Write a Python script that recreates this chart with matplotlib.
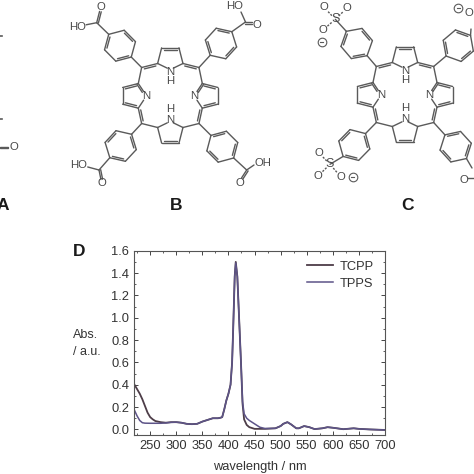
import numpy as np
import matplotlib
matplotlib.use("Agg")
import matplotlib.pyplot as plt
from matplotlib.ticker import MultipleLocator

plt.rcParams['font.family'] = ['Liberation Sans', 'DejaVu Sans']

wl_tcpp = [220,225,230,235,240,245,250,255,260,270,280,290,300,310,320,330,340,350,360,370,380,385,388,392,396,400,404,407,409,412,414,417,420,424,427,430,435,440,450,470,490,500,505,513,520,530,535,545,555,565,580,590,600,620,640,650,670,700]
abs_tcpp = [.40,.36,.32,.27,.21,.15,.11,.09,.075,.065,.06,.065,.065,.06,.05,.047,.05,.07,.085,.10,.10,.105,.11,.18,.26,.32,.40,.60,.89,1.37,1.50,1.37,1.04,.60,.23,.09,.04,.02,.005,.005,.01,.03,.05,.065,.045,.01,.01,.03,.02,.003,.01,.02,.015,.002,.01,.005,0,-.005]
wl_tpps = [220,225,230,235,240,250,260,270,280,290,300,310,320,330,340,350,360,370,380,385,388,392,396,400,404,407,409,412,414,417,420,424,427,430,435,440,450,460,470,490,500,505,513,520,530,535,545,555,565,580,590,600,620,640,650,670,700]
abs_tpps = [.17,.12,.08,.06,.056,.055,.055,.055,.058,.063,.065,.06,.05,.047,.05,.07,.085,.10,.10,.105,.11,.18,.26,.32,.40,.60,.89,1.37,1.49,1.37,1.04,.60,.25,.14,.10,.08,.05,.02,.008,.01,.03,.05,.065,.045,.01,.01,.03,.02,.003,.01,.02,.015,.002,.01,.005,0,-.005]
x_ticks = [250,300,350,400,450,500,550,600,650,700]
y_ticks = [0.0,0.2,0.4,0.6,0.8,1.0,1.2,1.4,1.6]
series_names = ['TCPP','TPPS']

W = H = 474
fig = plt.figure(figsize=(W/100, H/100), dpi=100)
GRAY = '#5a5a5a'

# Overlay in pixel coordinates for the structure drawings
ov = fig.add_axes([0,0,1,1])
ov.set_xlim(0,W); ov.set_ylim(H,0); ov.axis('off')

def seg(a, b, lw=1.0):
    ov.plot([a[0],b[0]],[a[1],b[1]],color=GRAY,lw=lw,solid_capstyle='round')

def dbl(a, b, toward, off=2.0, shrink=.14):
    a=np.array(a,float); b=np.array(b,float); t=np.array(toward,float)
    seg(a,b)
    d=b-a; n=np.array([-d[1],d[0]]); n/=np.linalg.norm(n)
    m=(a+b)/2
    if np.dot(t-m,n)<0: n=-n
    seg(a+d*shrink+n*off,b-d*shrink+n*off)

def lab(x,y,s,fs=8.2,**k):
    ov.text(x,y,s,ha='center',va='center',fontsize=fs,color='#484848',**k)

def core(cx,cy):
    P=lambda dx,dy:(cx+dx/3,cy+dy/3)
    c=(cx,cy)
    m=86
    tl,tr,bl,br=P(-m,-84),P(m,-84),P(-m,84),P(m,84)
    # top pyrrole (NH)
    a1,a2,b1,b2=P(-38,-96),P(38,-96),P(-26,-143),P(26,-143)
    n=P(0,-68)
    seg(a1,b1);seg(a2,b2);dbl(b1,b2,n)
    seg(a1,P(-9,-82));seg(a2,P(9,-82))
    dbl(tl,a1,c);dbl(a2,tr,c)
    lab(*P(0,-72),'N');lab(*P(0,-44),'H')
    # bottom pyrrole (NH)
    a3,a4,b3,b4=P(-38,96),P(38,96),P(-26,143),P(26,143)
    n=P(0,68)
    seg(a3,b3);seg(a4,b4);dbl(b3,b4,n)
    seg(a3,P(-9,82));seg(a4,P(9,82))
    seg(bl,a3);seg(a4,br)
    lab(*P(0,72),'N');lab(*P(0,40),'H')
    # left pyrrole (N)
    a5,a6,b5,b6=P(-96,-36),P(-96,38),P(-143,-24),P(-143,26)
    n=P(-72,0)
    dbl(a5,b5,n);dbl(a6,b6,n);seg(b5,b6)
    dbl(a5,P(-80,-12),P(-110,0),off=1.6,shrink=.0);seg(a6,P(-80,14))
    lab(*P(-72,0),'N')
    seg(tl,a5);dbl(a6,bl,c)
    # right pyrrole (N)
    a7,a8,b7,b8=P(96,-36),P(96,38),P(143,-24),P(143,26)
    n=P(72,0)
    dbl(a7,b7,n);dbl(a8,b8,n);seg(b7,b8)
    dbl(a7,P(80,-12),P(110,0),off=1.6,shrink=.0);seg(a8,P(80,14))
    lab(*P(72,0),'N')
    seg(tr,a7);dbl(a8,br,c)
    return tl,tr,bl,br

def ring(center, meso, r=16.0):
    c=np.array(center,float); mz=np.array(meso,float)
    d=(mz-c)/np.linalg.norm(mz-c)
    ang=np.arctan2(d[1],d[0])
    v=[c+r*np.array([np.cos(ang+k*np.pi/3),np.sin(ang+k*np.pi/3)]) for k in range(6)]
    for k in range(6):
        a,b=v[k],v[(k+1)%6]
        if k%2==0: dbl(a,b,c,off=1.9)
        else: seg(a,b)
    seg(mz,v[0])
    return v[3]

# ---- B ----
bc=(170.3,95.5)
tl,tr,bl,br=core(*bc)
tips=[ring((120,45.7),tl),ring((221,43.5),tr),ring((120.7,146),bl),ring((222.3,146.7),br)]
def cooh(tip,c,o,oh,oh_text):
    seg(tip,c)
    co=np.array(o,float)-np.array(c,float); co2=np.array(c)+co*.72
    dbl(c,co2,(c[0]+5,c[1]),off=1.7,shrink=0)
    coh=np.array(oh,float)-np.array(c,float); seg(c,np.array(c)+coh*.55)
    lab(*o,'O');lab(*oh,oh_text)
cooh(tips[0],(96.7,22.7),(100.7,7),(77.5,26.5),'HO')
seg(tips[1],(245.5,22));dbl((245.5,22),(252,22),(249,26),off=1.7,shrink=0);lab(257,25,'O');seg((245.5,22),(241,12));lab(234.5,6,'HO')
cooh(tips[2],(99,170),(101.7,183.3),(78.5,164.5),'HO')
seg(tips[3],(246.7,170));dbl((246.7,170),(241.5,178),(250,176),off=1.7,shrink=0);lab(239.5,183,'O');seg((246.7,170),(254,165));lab(263,163,'OH')

# ---- C ----
cc=(405,94.5)
tl,tr,bl,br=core(*cc)
tc=[ring((356.7,43.5),tl),ring((458.3,45.7),tr),ring((354.3,145),bl),ring((455.7,146.7),br)]
def so3(tip,s,o1,o2,o3,minus):
    seg(tip,s)
    lab(*s,'S',fs=9)
    for o in (o1,o2,o3):
        lab(*o,'O')
        p=np.array(s,float); q=np.array(o,float)
        ov.plot(*zip(p+(q-p)*.3,p+(q-p)*.7),color=GRAY,lw=1,ls=(0,(1.5,1)))
    ov.plot(minus[0],minus[1],'o',ms=6.2,mfc='white',mec=GRAY,mew=.8)
    ov.plot([minus[0]-1.7,minus[0]+1.7],[minus[1]]*2,color=GRAY,lw=.8)
so3(tc[0],(335.3,19.3),(324,7.3),(346.7,8.3),(323,30),(321.7,41.7))
so3(tc[2],(330,164.3),(319.3,153.3),(318.3,175.7),(340.7,176.7),(352.7,176.7))
lab(469.3,12.7,'O')
ov.plot(458.3,8.3,'o',ms=6.2,mfc='white',mec=GRAY,mew=.8)
ov.plot([456.6,460],[8.3,8.3],color=GRAY,lw=.8)
seg(tc[1],(471,29))
seg(tc[3],(472,168))
lab(464.3,180,'O')
ov.plot([468,474],[178,178],color=GRAY,lw=1)

# ---- A (cropped at the left edge) ----
dbl((0,146.7),(8,146.7),(4,150),off=1.6,shrink=0)
lab(13.5,146.7,'O')
ov.plot([0,2],[36,36],color=GRAY,lw=1.2)
ov.plot([0,2],[119,119],color=GRAY,lw=1.2)

# Panel letters
for x,y,s in ((2.5,205,'A'),(176,205,'B'),(407.5,205,'C'),(79.5,251,'D')):
    ov.text(x,y,s,ha='center',va='center',fontsize=12.5,fontweight='bold',color='#1a1a1a')

# ---- D: spectrum ----
L,R,T,B = 134.0,385.0,250.7,435.0
ax = fig.add_axes([L/W,1-B/H,(R-L)/W,(B-T)/H])
ax.patch.set_alpha(0)
ax.plot(wl_tcpp,abs_tcpp,color='#4d3d48',lw=1.3,label=series_names[0])
ax.plot(wl_tpps,abs_tpps,color='#5d5488',lw=1.1,label=series_names[1])
ax.set_xlim(219,700); ax.set_ylim(-0.05,1.6)
ax.set_xticks(x_ticks); ax.set_yticks(y_ticks)
ax.set_yticklabels([f'{v:.1f}' for v in y_ticks])
ax.xaxis.set_minor_locator(MultipleLocator(25))
ax.yaxis.set_minor_locator(MultipleLocator(.1))
ax.tick_params(which='major',direction='in',top=True,right=True,length=2.6,width=.7,color='#444444',labelsize=9.3,labelcolor='#333333',pad=3.5)
ax.tick_params(which='minor',direction='in',top=True,right=True,length=1.4,width=.6,color='#444444')
for s in ax.spines.values():
    s.set_linewidth(.8); s.set_color('#555555')
ax.set_xlabel('wavelength / nm',fontsize=9.3,color='#333333',labelpad=6.5)
ax.legend(loc='upper left',frameon=False,fontsize=9.3,handlelength=2.0,labelspacing=.36,handletextpad=.55,
          bbox_to_anchor=(.689,.945),borderaxespad=0,borderpad=0,labelcolor='#333333')
ov.text(73,343.5,'Abs.\n/ a.u.',ha='left',va='center',fontsize=9,color='#333333',linespacing=1.55)

fig.savefig('out.png',dpi=100)
